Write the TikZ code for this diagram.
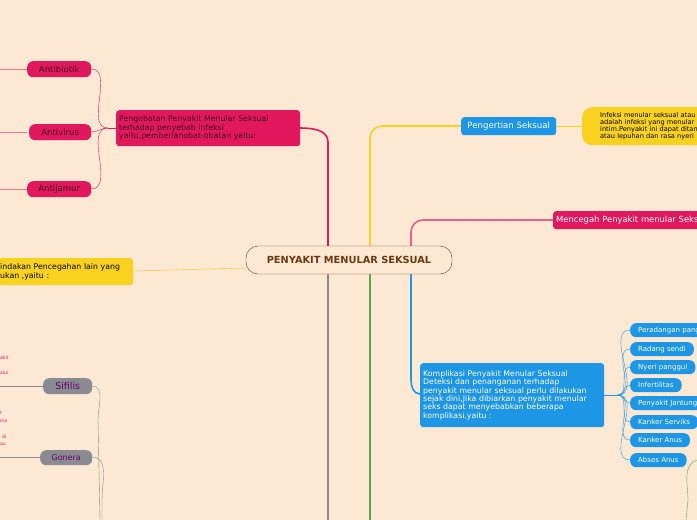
\documentclass[tikz,border=0pt]{standalone}
\usepackage{fontspec}
\setmainfont{DejaVu Sans}
\definecolor{bg}{HTML}{FDE8D3}
\definecolor{rd}{HTML}{E2185E}
\definecolor{bl}{HTML}{1E96E6}
\definecolor{yl}{HTML}{F8D21E}
\definecolor{gr}{HTML}{8A8A92}
\definecolor{gn}{HTML}{4CAF3A}
\definecolor{br}{HTML}{6B3A10}
\tikzset{
 box/.style={rounded corners=3pt,inner sep=3pt,font=\fontsize{7.8}{8.4}\selectfont,align=left,anchor=north west},
 pill/.style={rounded corners=6pt,inner sep=0pt,font=\fontsize{8.5}{9}\selectfont,anchor=north west},
 bpill/.style={rounded corners=6pt,fill=bl,text=white,inner xsep=8pt,inner ysep=0pt,minimum height=14pt,font=\fontsize{7}{7}\selectfont,anchor=north west,align=left},
 tiny/.style={font=\fontsize{4.5}{4.5}\selectfont,text=rd,anchor=west,inner sep=0pt},
 main/.style={line width=1.6pt},
}
\begin{document}
\begin{tikzpicture}[x=1pt,y=-1pt]
\fill[bg] (0,0) rectangle (697,520);
\useasboundingbox (0,0) rectangle (697,520);
% connectors
\draw[rd,main] (328,246) -- (328,142) to[out=90,in=0] (300,128);
\draw[gr,main] (328,274) -- (328,520);
\draw[gn,main] (370,274) -- (370,520);
\draw[yl,main] (370,246) -- (370,138) to[out=90,in=180] (382,126) -- (461,126);
\draw[yl!80!orange] (246,268) -- (133,271);
\draw[bl,main] (411,274) -- (411,380) to[out=-90,in=180] (420,394);
\draw[rd!70,main] (411,246) -- (411,232) to[out=90,in=180] (423,220) -- (553,220);
\draw[yl,thick] (556,126) -- (582,126);
\draw[rd] (116,128) -- (108,128);
\foreach \y in {69,132,189}{\draw[rd] (108,128) to[out=180,in=0] (91,\y);}
\foreach \y in {69,132,189}{\draw[rd!60] (0,\y) -- (27,\y);}
\draw[bl,thick] (604,395) -- (618,395);
\foreach \y in {330,349,367,385,403,422,440,460}{\draw[bl] (618,395) to[out=0,in=180] (630,\y);}
\draw[gr] (0,386) -- (43,386);
\draw[gr] (0,457) -- (40,457);
\draw[gr] (92,386) to[out=0,in=90] (98,420) -- (100,520);
\draw[gr] (92,457) to[out=0,in=90] (102,500) -- (102,520);
\draw[gn] (697,460) to[out=200,in=90] (688,500) -- (686,520);
% nodes
\node[draw=br,fill=bg,rounded corners=12pt,minimum width=206pt,minimum height=28pt,inner sep=0pt,font=\bfseries\fontsize{9.8}{10}\selectfont,text=br] (c) at (349,260) {PENYAKIT MENULAR SEKSUAL};
\node[box,fill=rd,text width=178pt,minimum height=36pt,text=black!70!rd] (p) at (116,110) {Pengobatan Penyakit Menular Seksual\\terhadap penyebab infeksi\\yaitu,pemberianobat-obatan yaitu:};
\node[pill,fill=rd,minimum width=64pt,minimum height=16pt,text=black!70!rd] (a1) at (27,61) {Antibiotik};
\node[pill,fill=rd,minimum width=62pt,minimum height=16pt,text=black!70!rd] (a2) at (29,124) {Antivirus};
\node[pill,fill=rd,minimum width=64pt,minimum height=16pt,text=black!70!rd] (a3) at (27,181) {Antijamur};
\node[box,fill=yl,text width=137pt,minimum height=27pt,rounded corners=3pt] (t) at (-10,258) {\hspace*{7pt}indakan Pencegahan lain yang\\\hspace*{7pt}ukan ,yaitu :};
\node[box,fill=bl,text=white,minimum height=18pt,minimum width=95pt,align=center,inner sep=2pt,font=\fontsize{8.6}{9}\selectfont] (ps) at (461,117) {Pengertian Seksual};
\node[box,fill=yl,rounded corners=10pt,text width=130pt,minimum height=38pt,font=\fontsize{6.6}{7.2}\selectfont,inner xsep=18pt] (ins) at (582,107) {Infeksi menular seksual atau\\adalah infeksi yang menular\\intim.Penyakit ini dapat ditan\\atau lepuhan dan rasa nyeri};
\node[box,fill=rd,text=white,minimum height=18pt,text width=170pt,inner sep=3pt,font=\fontsize{8.4}{9}\selectfont] (m) at (553,211) {Mencegah Penyakit menular Seksual};
\node[box,fill=bl,text=white,text width=178pt,minimum height=64pt] (k) at (420,363) {Komplikasi Penyakit Menular Seksual\\Deteksi dan penanganan terhadap\\penyakit menular seksual perlu dilakukan\\sejak dini,Jika dibiarkan penyakit menular\\seks dapat menyebabkan beberapa\\komplikasi,yaitu :};
\node[bpill,text width=90pt] (b1) at (630,323) {Peradangan panggul};
\node[bpill] (b2) at (630,342) {Radang sendi};
\node[bpill] (b3) at (630,360) {Nyeri panggul};
\node[bpill] (b4) at (630,378) {Infertilitas};
\node[bpill,text width=90pt] (b5) at (630,396) {Penyakit Jantung};
\node[bpill] (b6) at (630,415) {Kanker Serviks};
\node[bpill] (b7) at (630,433) {Kanker Anus};
\node[bpill] (b8) at (630,453) {Abses Anus};
\node[pill,fill=gr,minimum width=49pt,minimum height=16pt,text=violet!80!black,font=\fontsize{9.5}{10}\selectfont] (s) at (43,378) {Sifilis};
\node[pill,fill=gr,minimum width=52pt,minimum height=15pt,text=violet!80!black,font=\fontsize{8}{8}\selectfont] (g) at (40,450) {Gonera};
\node[tiny] (x1) at (0,358) {akit};
\node[tiny] (x2) at (0,373) {alui};
\node[tiny] (x3) at (0,413) {t};
\node[tiny] (x4) at (0,421) {ina};
\node[tiny] (x5) at (2,437) {di};
\node[tiny] (x6) at (0,444) {au};
\end{tikzpicture}
\end{document}
